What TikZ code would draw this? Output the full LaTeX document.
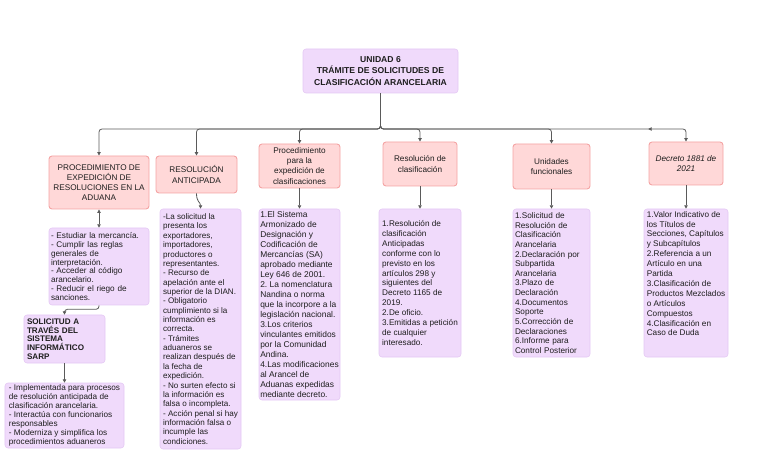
\documentclass[tikz,border=0pt]{standalone}
\usepackage{fontspec}
\setmainfont{Liberation Sans}
\usetikzlibrary{arrows.meta,decorations.markings}
\definecolor{pinkfill}{HTML}{FFD8D8}
\definecolor{pinkline}{HTML}{F4A4A4}
\definecolor{purfill}{HTML}{F0DAFB}
\definecolor{purline}{HTML}{E4C8F4}
\definecolor{conncol}{HTML}{5A5A5A}
\definecolor{txt}{HTML}{1E1E1E}
\frenchspacing
\begin{document}
\begin{tikzpicture}[x=1bp,y=-1bp,
  >={Triangle[length=3.4bp,width=3.4bp]},
  pinkbox/.style={draw=pinkline,fill=pinkfill,line width=0.9bp,rounded corners=3bp,inner sep=0pt,align=center,text=txt},
  purbox/.style={draw=purline,fill=purfill,line width=0.6bp,rounded corners=3bp,inner ysep=0pt,inner xsep=2bp,align=left,text=txt},
  conn/.style={draw=conncol,line width=0.8bp,->,rounded corners=3bp},
]
\useasboundingbox (0,0) rectangle (768,474);

% root
\node[purbox,align=center,inner xsep=0pt,minimum width=155bp,minimum height=44bp,
  font=\bfseries\fontsize{8.6bp}{11.2bp}\selectfont] (root) at (380.5,71)
  {UNIDAD 6\\TRÁMITE DE SOLICITUDES DE\\CLASIFICACIÓN ARANCELARIA};

% second level
\node[pinkbox,minimum width=100bp,minimum height=53bp,font=\fontsize{8.2bp}{10.2bp}\selectfont] (b1) at (99,182.5)
  {PROCEDIMIENTO DE\\EXPEDICIÓN DE\\RESOLUCIONES EN LA\\ADUANA};
\node[pinkbox,minimum width=81bp,minimum height=37bp,font=\fontsize{8.2bp}{10.3bp}\selectfont] (b2) at (196.5,174.5)
  {RESOLUCIÓN\\ANTICIPADA};
\node[pinkbox,minimum width=81bp,minimum height=44bp,font=\fontsize{8.2bp}{10.1bp}\selectfont] (b3) at (299.5,166)
  {Procedimiento\\para la\\expedición de\\clasificaciones};
\node[pinkbox,minimum width=74bp,minimum height=44bp,font=\fontsize{8.2bp}{11bp}\selectfont] (b4) at (420,164)
  {Resolución de\\clasificación};
\node[pinkbox,minimum width=77bp,minimum height=45bp,font=\fontsize{8.2bp}{10.3bp}\selectfont] (b5) at (551.5,166.5)
  {Unidades\\funcionales};
\node[pinkbox,minimum width=74bp,minimum height=43bp,font=\itshape\fontsize{8.2bp}{10bp}\selectfont] (b6) at (686,163.5)
  {Decreto 1881 de\\2021};

% lists
\node[purbox,text width=96bp,minimum height=77bp,font=\fontsize{8.2bp}{8.9bp}\selectfont] (p1) at (99,266.5)
  {- Estudiar la mercancía.\\- Cumplir las reglas\\generales de\\interpretación.\\- Acceder al código\\arancelario.\\- Reducir el riego de\\sanciones.};
\node[purbox,minimum width=81bp,minimum height=240bp,font=\fontsize{8.1bp}{9.36bp}\selectfont] (p2) at (200.5,329)
  {-La solicitud la\\presenta los\\exportadores,\\importadores,\\productores o\\representantes.\\- Recurso de\\apelación ante el\\superior de la DIAN.\\- Obligatorio\\cumplimiento si la\\información es\\correcta.\\- Trámites\\aduaneros se\\realizan después de\\la fecha de\\expedición.\\- No surten efecto si\\la información es\\falsa o incompleta.\\- Acción penal si hay\\información falsa o\\incumple las\\condiciones.};
\node[purbox,inner xsep=1bp,minimum width=81bp,minimum height=191bp,font=\fontsize{8.4bp}{10bp}\selectfont] (p3) at (299.5,304.5)
  {1.El Sistema\\Armonizado de\\Designación y\\Codificación de\\Mercancías (SA)\\aprobado mediante\\Ley 646 de 2001.\\2. La nomenclatura\\Nandina o norma\\que la incorpore a la\\legislación nacional.\\3.Los criterios\\vinculantes emitidos\\por la Comunidad\\Andina.\\4.Las modificaciones\\al Arancel de\\Aduanas expedidas\\mediante decreto.};
\node[purbox,minimum width=82bp,minimum height=148bp,font=\fontsize{8.2bp}{9.86bp}\selectfont] (p4) at (420,283)
  {1.Resolución de\\clasificación\\Anticipadas\\conforme con lo\\previsto en los\\artículos 298 y\\siguientes del\\Decreto 1165 de\\2019.\\2.De oficio.\\3.Emitidas a petición\\de cualquier\\interesado.};
\node[purbox,text width=73bp,minimum height=148bp,font=\fontsize{8.2bp}{9.64bp}\selectfont] (p5) at (551.5,283)
  {1.Solicitud de\\Resolución de\\Clasificación\\Arancelaria\\2.Declaración por\\Subpartida\\Arancelaria\\3.Plazo de\\Declaración\\4.Documentos\\Soporte\\5.Corrección de\\Declaraciones\\6.Informe para\\Control Posterior};
\node[purbox,minimum width=84bp,minimum height=148bp,font=\fontsize{8.2bp}{9.9bp}\selectfont] (p6) at (686,283)
  {1.Valor Indicativo de\\los Títulos de\\Secciones, Capítulos\\y Subcapítulos\\2.Referencia a un\\Artículo en una\\Partida\\3.Clasificación de\\Productos Mezclados\\o Artículos\\Compuestos\\4.Clasificación en\\Caso de Duda\\[9bp]\mbox{}};

\node[purbox,inner xsep=3bp,text width=75bp,minimum height=48bp,font=\bfseries\fontsize{8.1bp}{8.7bp}\selectfont] (sarp) at (64.5,339)
  {SOLICITUD A\\TRAVÉS DEL\\SISTEMA\\INFORMÁTICO\\SARP};
\node[purbox,minimum width=119bp,minimum height=65bp,font=\fontsize{8.2bp}{9bp}\selectfont] (bot) at (64.5,415.5)
  {- Implementada para procesos\\de resolución anticipada de\\clasificación arancelaria.\\- Interactúa con funcionarios\\responsables\\- Moderniza y simplifica los\\procedimientos aduaneros};

% connectors
\coordinate (bus) at (root.south |- 0,129);
\draw[conn] (root.south) -- (bus) -| (b1.north);
\draw[conn] (root.south) -- (bus) -| (b2.north);
\draw[conn] (root.south) -- (bus) -| (b3.north);
\draw[conn] (root.south) -- (bus) -| (b4.north);
\draw[conn] (root.south) -- (bus) -| (b5.north);
\draw[conn,postaction={decorate},decoration={markings,mark=at position 0.87 with {\arrow{Triangle[reversed,length=3.4bp,width=3.4bp]}}}]
  (root.south) -- (bus) -| (b6.north);

\draw[conn,<->] (b1.south) -- (p1.north);
\draw[conn] (b2.south) .. controls +(0,9) and +(0,-7) .. (p2.north);
\draw[conn] (b3.south) -- (p3.north);
\draw[conn] (b4.south) -- (p4.north);
\draw[conn] (b5.south) -- (p5.north);
\draw[conn] (b6.south) -- (p6.north);
\draw[conn] (p1.south) -- ++(0,4) -| (sarp.north);
\draw[conn] (sarp.south) -- (bot.north);
\end{tikzpicture}
\end{document}
